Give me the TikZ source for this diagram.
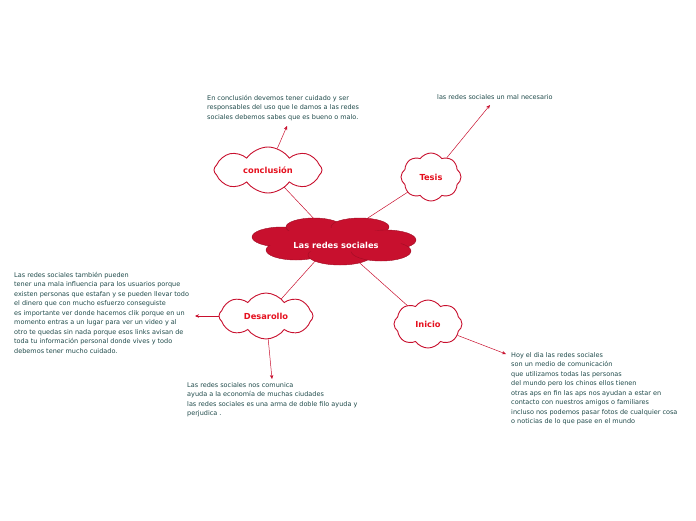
\documentclass[tikz,border=0pt]{standalone}
\usepackage{fontspec}
\setmainfont{DejaVu Sans}
\usetikzlibrary{shapes.symbols,arrows.meta}
\definecolor{crim}{HTML}{C8102E}
\definecolor{lab}{HTML}{E5101E}
\definecolor{txt}{HTML}{1F4A4A}
\tikzset{
 cl/.style={cloud, cloud puffs=8, cloud puff arc=110, cloud ignores aspect, draw=crim, line width=0.9pt, fill=white, text=lab, font=\bfseries\fontsize{8.3}{9}\selectfont, inner sep=0pt},
 note/.style={text=txt, font=\fontsize{6.5}{9.5}\selectfont, align=left, anchor=north west, inner sep=0pt},
 con/.style={draw=crim, line width=0.5pt},
 arr/.style={con, -{Stealth[length=4pt,width=3.5pt]}},
 puff/.style={fill=crim, draw=crim!80!black, line width=0.4pt}
}
\begin{document}
\begin{tikzpicture}[x=1pt,y=-1pt]
\useasboundingbox (0,0) rectangle (696,520);
\draw[con] (334,240) -- (268,170);
\draw[con] (334,240) -- (431,177);
\draw[con] (334,240) -- (266,316);
\draw[con] (334,240) -- (428,324);
\foreach \x/\y/\a/\b in {282/237/30/10, 314/227/28/9, 360/227/29/9, 386/240/30/10, 296/250/30/10, 340/255/32/10, 381/251/30/10}
  \draw[puff] (\x,\y) ellipse [x radius=\a, y radius=\b];
\fill[crim] (334,240) ellipse [x radius=70, y radius=12];
\node[text=white, font=\bfseries\fontsize{8.3}{9}\selectfont] (c) at (336,245) {Las redes sociales};
\node[cl, minimum width=108, minimum height=46] (con) at (268,170) {conclusión};
\node[cl, minimum width=60, minimum height=48] (tes) at (431,177) {Tesis};
\node[cl, minimum width=94, minimum height=46] (des) at (266,316) {Desarollo};
\node[cl, minimum width=68, minimum height=48] (ini) at (428,324) {Inicio};
\coordinate (a1) at (287,126);
\coordinate (a2) at (490,105);
\coordinate (a3) at (195,316);
\coordinate (a4) at (272,379);
\coordinate (a5) at (506,354);
\draw[arr] (con) -- (a1);
\draw[arr] (tes) -- (a2);
\draw[arr] (des) -- (a3);
\draw[arr] (des) -- (a4);
\draw[arr] (ini) -- (a5);
\node[note] (n1) at (207,95) {En conclusión devemos tener cuidado y ser\\responsables del uso que le damos a las redes\\sociales debemos sabes que es bueno o malo.};
\node[note] (n2) at (437,94) {las redes sociales un mal necesario};
\node[note] (n3) at (14,272) {Las redes sociales también pueden\\tener una mala influencia para los usuarios porque\\existen personas que estafan y se pueden llevar todo\\el dinero que con mucho esfuerzo conseguiste\\es importante ver donde hacemos clik porque en un\\momento entras a un lugar para ver un video y al\\otro te quedas sin nada porque esos links avisan de\\toda tu información personal donde vives y todo\\debemos tener mucho cuidado.};
\node[note] (n4) at (187,382) {Las redes sociales nos comunica\\ayuda a la economía de muchas ciudades\\las redes sociales es una arma de doble filo ayuda y\\perjudica .};
\node[note] (n5) at (511,352) {Hoy el dia las redes sociales\\son un medio de comunicación\\que utilizamos todas las personas\\del mundo pero los chinos ellos tienen\\otras aps en fin las aps nos ayudan a estar en\\contacto con nuestros amigos o familiares\\incluso nos podemos pasar fotos de cualquier cosa\\o noticias de lo que pase en el mundo};
\end{tikzpicture}
\end{document}
